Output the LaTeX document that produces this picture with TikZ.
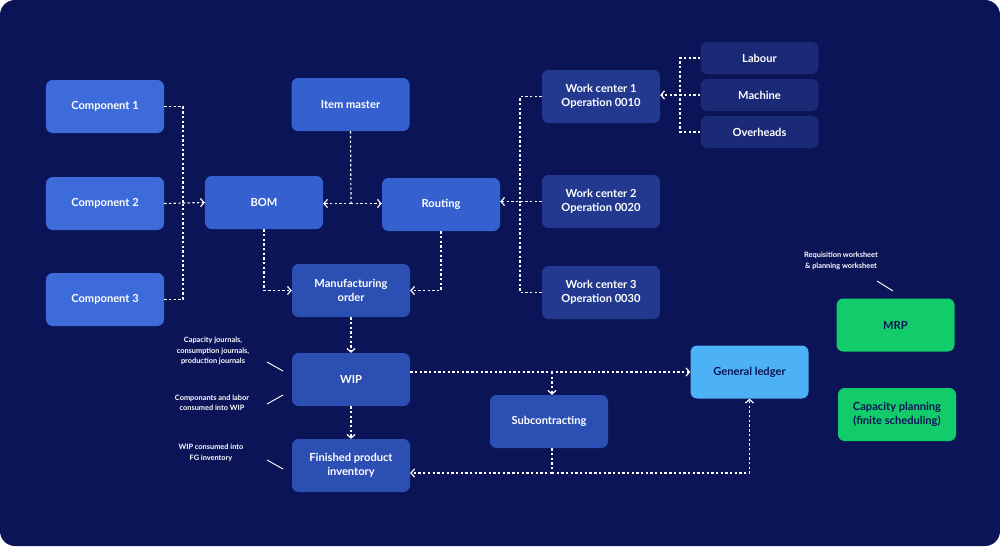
\documentclass[tikz,border=0pt]{standalone}
\usepackage{fontspec}
\setmainfont{Lato}
\usetikzlibrary{arrows.meta}
\definecolor{bgblue}{HTML}{0A1456}
\definecolor{compblue}{HTML}{3D6BDA}
\definecolor{midblue}{HTML}{3560CF}
\definecolor{wipblue}{HTML}{2C4FB4}
\definecolor{wcblue}{HTML}{22398F}
\definecolor{resblue}{HTML}{1A2A77}
\definecolor{ledger}{HTML}{4DB2F5}
\definecolor{mrpgreen}{HTML}{12CC6A}
\tikzset{
  box/.style={rounded corners=0.2cm,minimum width=3.54cm,minimum height=1.59cm,align=center,text=white,font=\fontsize{9.5}{12}\selectfont\bfseries,inner sep=1pt},
  smallbox/.style={box,minimum height=0.96cm},
  flow/.style={white,line width=1pt,dash pattern=on 2pt off 2pt,-{Straight Barb[length=3pt,width=7pt]}},
  link/.style={white,line width=1pt,dash pattern=on 2pt off 2pt},
  note/.style={text=white,align=center,font=\fontsize{6.3}{9}\selectfont\bfseries},
  tick/.style={white,line width=0.8pt}
}
\begin{document}
\begin{tikzpicture}[x=0.03cm,y=-0.03cm]
		\fill[bgblue,rounded corners=0.45cm] (0,0) rectangle (1000,546);
		\useasboundingbox (0,0) rectangle (1000,546);
		% components
		\node[box,fill=compblue] (C1) at (105,106.5) {Component 1};
		\node[box,fill=compblue] (C2) at (105,203.5) {Component 2};
		\node[box,fill=compblue] (C3) at (105,299.5) {Component 3};
		% main chain
		\node[box,fill=midblue] (IM) at (350.5,104.5) {Item master};
		\node[box,fill=midblue] (BOM) at (264,202.5) {BOM};
		\node[box,fill=midblue] (RT) at (441,204.5) {Routing};
		\node[box,fill=wipblue] (MO) at (351,290.5) {Manufacturing\\order};
		\node[box,fill=wipblue] (WIP) at (351,379.5) {WIP};
		\node[box,fill=wipblue] (FPI) at (351,465.5) {Finished product\\inventory};
		\node[box,fill=wipblue] (SUB) at (549,421.5) {Subcontracting};
		\node[box,fill=ledger,text=bgblue] (GL) at (749.5,372) {General ledger};
		\node[box,fill=mrpgreen,text=bgblue] (MRP) at (895.5,325) {MRP};
		\node[box,fill=mrpgreen,text=bgblue] (CP) at (897,414.5) {Capacity planning\\(finite scheduling)};
		% work centers
		\node[box,fill=wcblue] (WC1) at (601,96.5) {Work center 1\\Operation 0010};
		\node[box,fill=wcblue] (WC2) at (601,201.5) {Work center 2\\Operation 0020};
		\node[box,fill=wcblue] (WC3) at (601,292.5) {Work center 3\\Operation 0030};
		\node[smallbox,fill=resblue] (LAB) at (759.5,58) {Labour};
		\node[smallbox,fill=resblue] (MAC) at (759.5,95) {Machine};
		\node[smallbox,fill=resblue] (OVH) at (759.5,132) {Overheads};
		% junctions
		\coordinate (J1) at (183,203.5);
		\coordinate (J2) at (351,203.5);
		\coordinate (J3) at (520,201.5);
		\coordinate (J4) at (680,95);
		\coordinate (J5) at (552,372);
		\coordinate (J6) at (552,473);
		% connectors
		\draw[link] (C1.east) -| (J1);
		\draw[link] (C3.east) -| (J1);
		\draw[flow] (C2.east) -- (BOM.west);
		\draw[link] (IM.south) -- (J2);
		\draw[flow] (J2) -- (J2-|BOM.east);
		\draw[flow] (J2) -- (J2-|RT.west);
		\draw[flow] (BOM.south) |- (MO.west);
		\draw[flow] (RT.south) |- (MO.east);
		\draw[flow] (MO.south) -- (WIP.north);
		\draw[flow] (WIP.south) -- (FPI.north);
		\draw[link] (WC1.west) -| (J3);
		\draw[link] (WC3.west) -| (J3);
		\draw[flow] (WC2.west) -- (RT.east|-WC2.west);
		\draw[link] (LAB.west) -| (J4);
		\draw[link] (OVH.west) -| (J4);
		\draw[flow] (MAC.west) -- (WC1.east|-MAC.west);
		\draw[flow] (WIP.east|-J5) -- (GL.west|-J5);
		\draw[flow] (J5) -- (SUB.north-|J5);
		\draw[link] (SUB.south-|J6) -- (J6);
		\draw[flow] (J6) -- (J6-|FPI.east);
		\draw[flow] (J6) -| (GL.south);
		% notes
		\node[note] (N1) at (213,351) {Capacity journals,\\consumption journals,\\production journals};
		\node[note] (N2) at (212,403) {Componants and labor\\consumed into WIP};
		\node[note] (N3) at (211,453) {WIP consumed into\\FG inventory};
		\node[note] (N4) at (841,261) {Requisition worksheet\\\& planning worksheet};
		\draw[tick] (267,362) -- (283,371);
		\draw[tick] (267,404) -- (283,395);
		\draw[tick] (267,460) -- (283,469);
		\draw[tick] (877,281) -- (893,291);
	\end{tikzpicture}
\end{document}
